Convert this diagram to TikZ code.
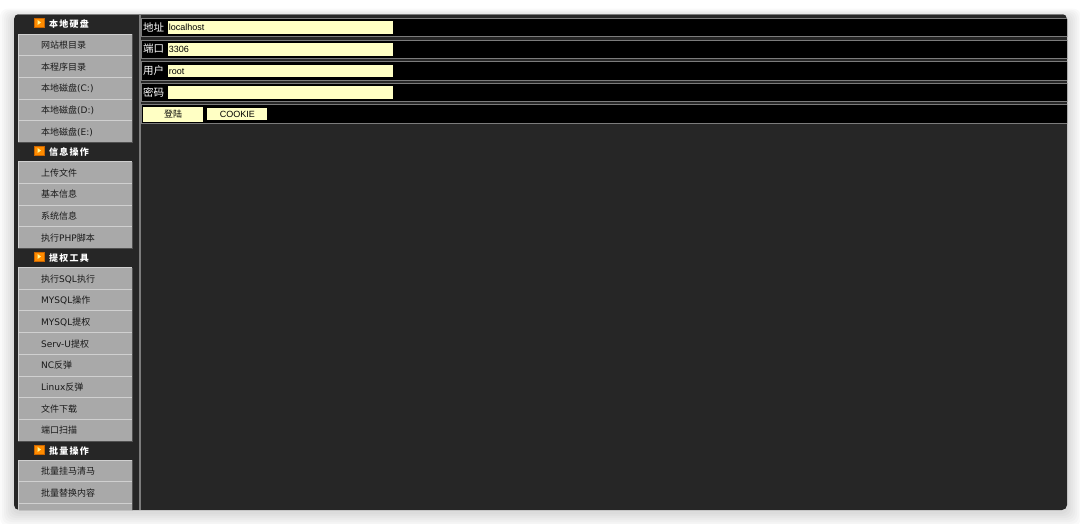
\documentclass[tikz,border=0pt]{standalone}
\usepackage{fontspec}
\setmainfont{Liberation Sans}
\newfontfamily\cjk{Noto Sans CJK SC}
\newfontfamily\lat{DejaVu Sans}
\newfontfamily\cjkhead[LetterSpace=14]{Noto Sans CJK SC}
\usetikzlibrary{positioning,calc}
\definecolor{panelgray}{HTML}{262626}
\definecolor{btngray}{HTML}{A9A9A9}
\definecolor{btnlight}{HTML}{D0D0D0}
\definecolor{btndark}{HTML}{505050}
\definecolor{inputyellow}{HTML}{FFFFC4}
\definecolor{rowline}{HTML}{7C7C7C}
\newcommand{\menuwidth}{114pt}
\newcommand{\menuheight}{21.6pt}
\tikzset{
  menubtn/.style={fill=btngray, minimum width=\menuwidth, minimum height=\menuheight,
    inner ysep=0pt, anchor=west, text=black!90, font=\cjk\fontsize{9}{9}\selectfont,
    align=left, text width=\menuwidth-46pt, inner xsep=23pt, text height=8.2pt, text depth=1pt},
  menuhead/.style={anchor=west, inner sep=0pt, text=white, font=\cjkhead\bfseries\fontsize{9}{9}\selectfont},
  menuicon/.style={fill=orange!90!yellow, draw=orange!80!black, line width=.4pt,
    minimum size=9.5pt, inner sep=0pt},
  formrow/.style={fill=black, draw=rowline, line width=1.4pt, minimum width=940pt,
    minimum height=18.5pt, inner sep=0pt, anchor=west},
  rowlabel/.style={anchor=west, inner sep=0pt, text=white, font=\cjk\fontsize{10.5}{10.5}\selectfont},
  inputbox/.style={fill=inputyellow, minimum width=225pt, minimum height=12.6pt, inner sep=0pt,
    anchor=west, align=left, text width=223.5pt, inner xsep=.75pt, font=\fontsize{9}{9}\selectfont},
  formbtn/.style={fill=inputyellow, minimum width=60pt, inner sep=0pt, align=center},
}
\begin{document}
\begin{tikzpicture}[x=1pt,y=-1pt]
  \useasboundingbox (0,0) rectangle (1080,523);
  \fill [white] (0,0) rectangle (1080,523);

  % soft shadow
  \foreach \s in {14,12,...,2}
    \fill [black, opacity=.018, rounded corners=8pt]
      (14-\s,14-.6*\s+3) rectangle (1067+\s,510+\s+2);

  \fill [panelgray, rounded corners=5pt] (14,14) rectangle (1067,510);

  \begin{scope}
    \clip [rounded corners=5pt] (14,14) rectangle (1067,510);
    \fill [rowline] (14,14) rectangle (1067,15);

    % side menu
    \foreach \i/\y/\txt in {
        1/45/网站根目录, 2/66.5/本程序目录, 3/88/{本地磁盘{\lat(C:)}}, 4/110/{本地磁盘{\lat(D:)}},
        5/131.5/{本地磁盘{\lat(E:)}}, 6/172.5/上传文件, 7/194/基本信息, 8/216/系统信息,
        9/237.5/执行{\lat PHP}脚本, 10/278.5/执行{\lat SQL}执行, 11/300/{\lat MYSQL}操作, 12/321.5/{\lat MYSQL}提权,
        13/343.5/{\lat Serv-U}提权, 14/365/{\lat NC}反弹, 15/387/{\lat Linux}反弹, 16/408.5/文件下载,
        17/430/端口扫描, 18/471/批量挂马清马, 19/492.5/批量替换内容, 20/514/{}} {
      \node [menubtn] (menu\i) at (18,\y) {\txt};
      \draw [btnlight, line width=.8pt] (menu\i.south west) |- (menu\i.north east);
      \draw [btndark, line width=.8pt] (menu\i.south west) -| (menu\i.north east);
    }

    % menu headings
    \foreach \i/\y/\txt in {1/24/本地硬盘, 2/152/信息操作, 3/258/提权工具, 4/451/批量操作} {
      \node [menuicon] (icon\i) at (39,\y-1.5) {};
      \fill [white!60!yellow] ($(icon\i.center)+(-1.5,-2.5)$) -- ++(3.5,2.5) -- ++(-3.5,2.5) -- cycle;
      \node [menuhead] (head\i) at (49,\y) {\txt};
    }

    % divider
    \draw [rowline, line width=1.2pt] (140,14) -- (140,510);

    % form rows
    \foreach \i/\y/\txt/\val in {
        1/27.5/地址/localhost, 2/49.5/端口/3306, 3/71/用户/root, 4/92.5/密码/{}} {
      \node [formrow] (row\i) at (141,\y) {};
      \node [rowlabel] (label\i) at (143,\y-.5) {\txt};
      \node [inputbox, text depth=1.5pt, text height=7.5pt] (input\i) at (168,\y) {\val};
    }
    \node [formrow] (row5) at (141,114) {};
    \node [formbtn, minimum height=15pt, font=\cjk\fontsize{9}{9}\selectfont] (login) at (173,114) {登陆};
    \node [formbtn, minimum height=12pt, font=\fontsize{9}{9}\selectfont, right=4pt of login] (cookie) {COOKIE};
  \end{scope}
\end{tikzpicture}
\end{document}
